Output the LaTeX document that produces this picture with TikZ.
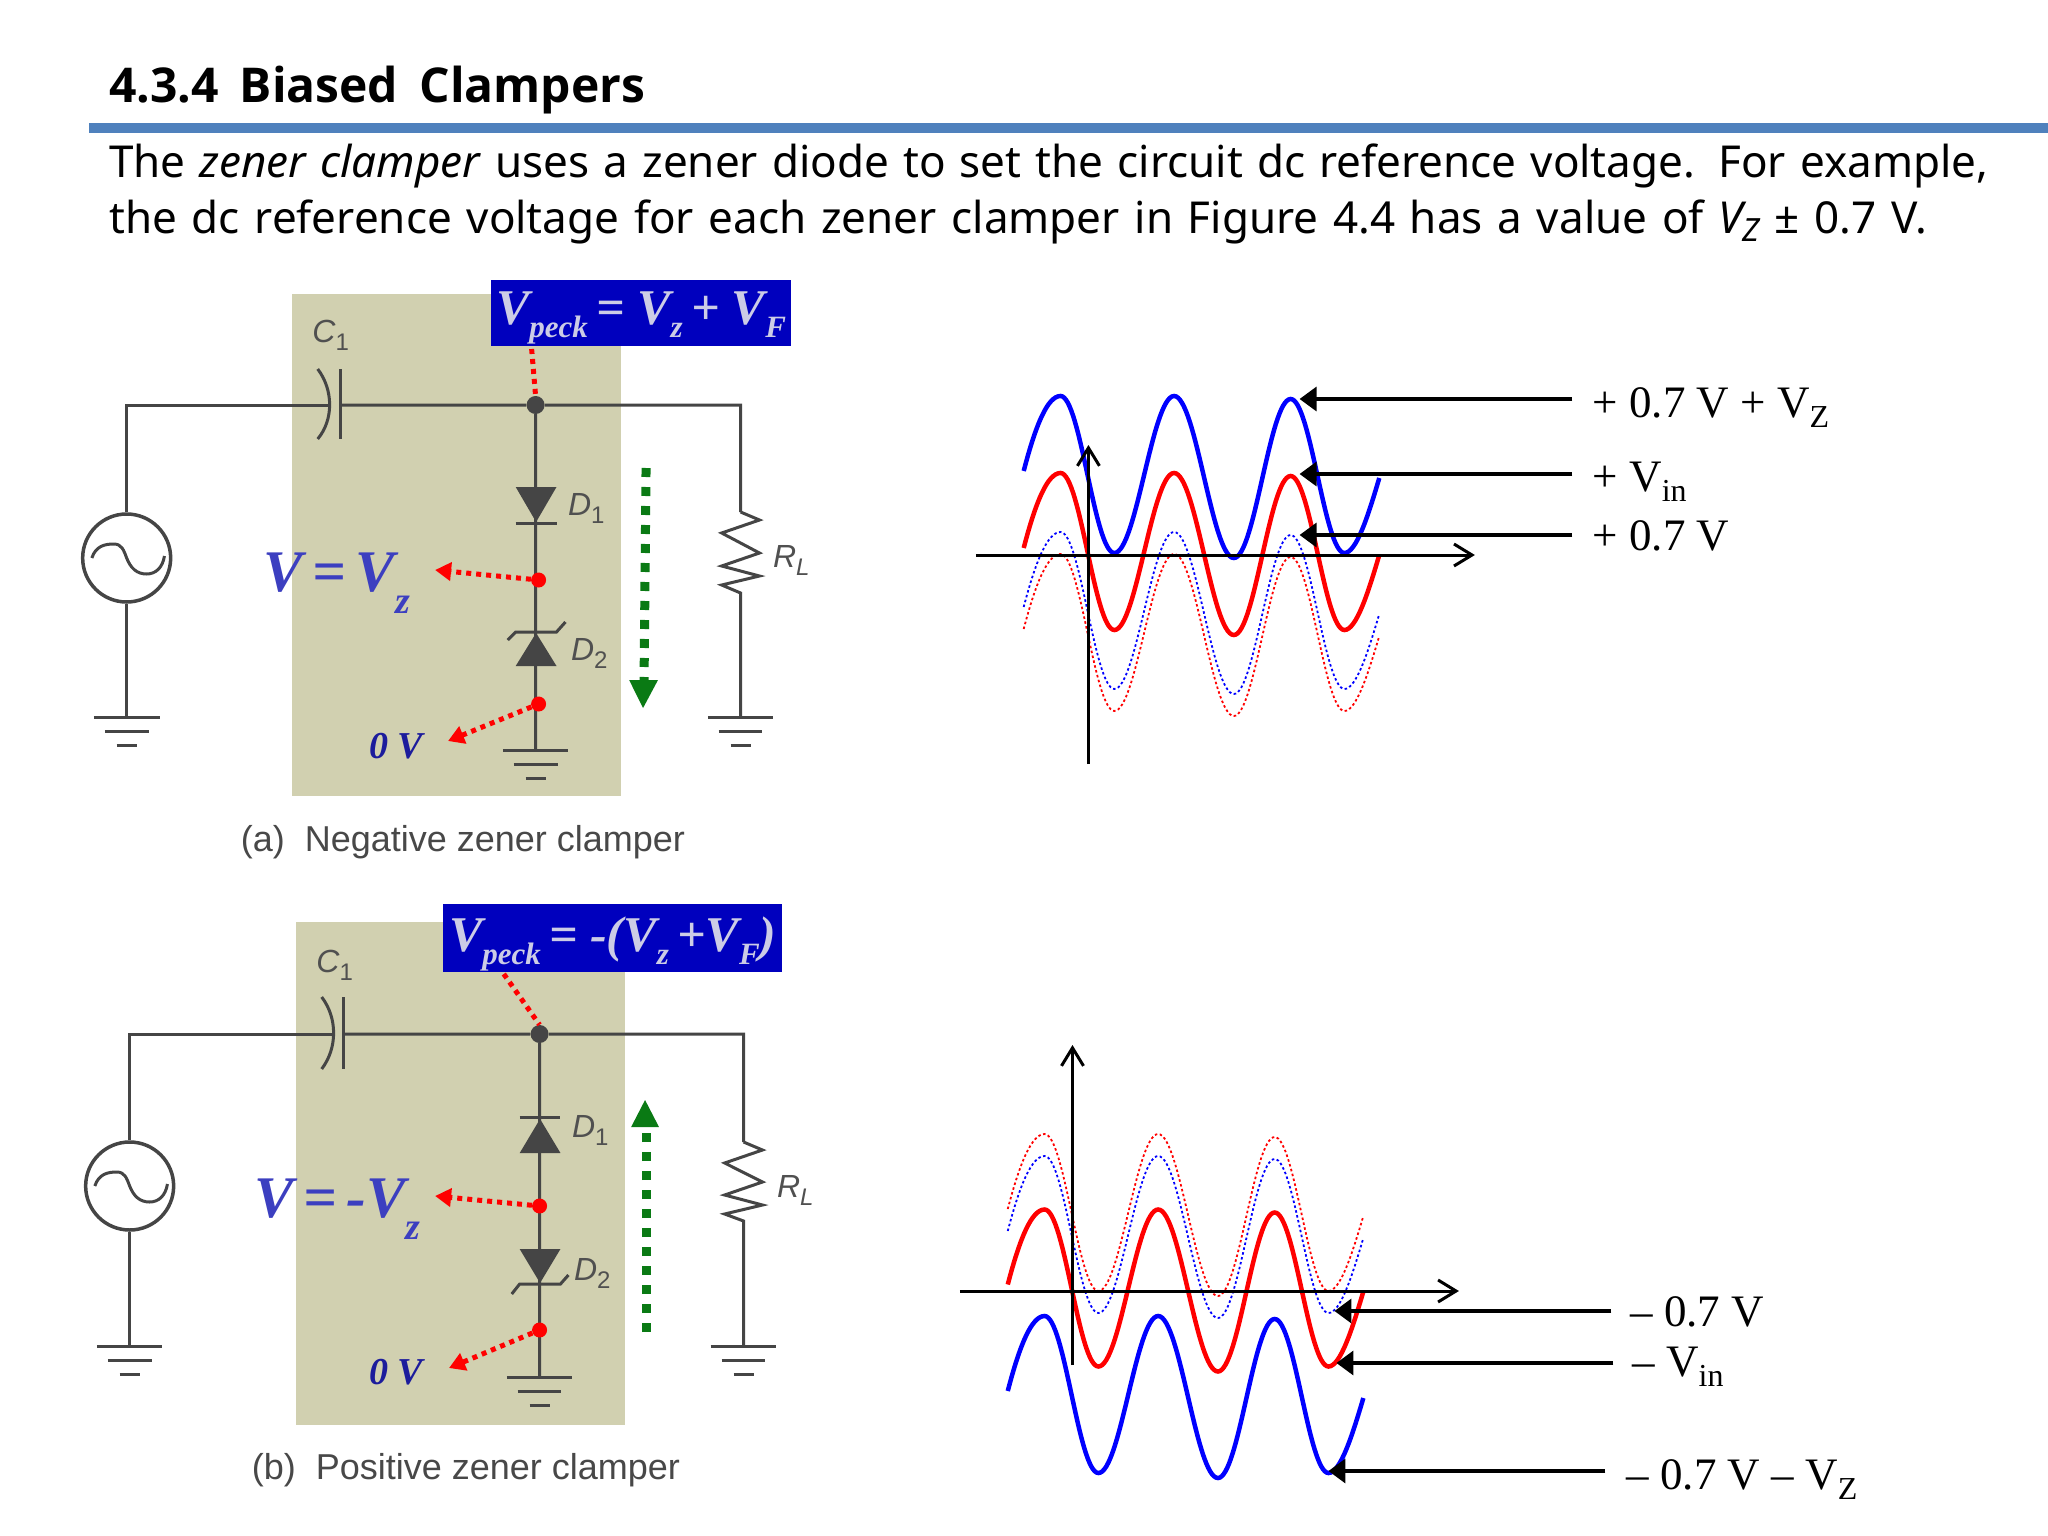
\documentclass[tikz,border=0pt]{standalone}
\usepackage{fontspec}
\setmainfont{Liberation Serif}
\setsansfont{Liberation Sans}
\newfontfamily\headfont{Noto Sans}
\newfontfamily\titlefont{Open Sans}
\usetikzlibrary{arrows.meta}
\definecolor{ruleblue}{HTML}{4F81BD}
\definecolor{tanc}{HTML}{D1D0B0}
\definecolor{wirec}{HTML}{454545}
\definecolor{boxblue}{HTML}{0000BE}
\definecolor{boxtxt}{HTML}{CCCCE6}
\definecolor{vblue}{HTML}{3C3FC0}
\definecolor{zblue}{HTML}{1C1C9C}
\definecolor{gdot}{HTML}{0A7A14}
\definecolor{capc}{HTML}{484848}
\definecolor{slc}{HTML}{505050}
\newcommand\fs[1]{\fontsize{#1}{#1}\selectfont}
\newcommand\subt[2]{\raisebox{#1}{#2}}
\newcommand\slbl[2]{{\sffamily\color{slc}\itshape\fs{32}#1\subt{-8pt}{\fs{24}#2}}}
\newcommand\wlbl[2]{{\fs{45}#1\subt{-10pt}{\fs{32}#2}}}
\newcommand\bb[1]{{\bfseries\itshape\fs{50}#1}}
\newcommand\bs[1]{\subt{-13pt}{\bfseries\itshape\fs{31}#1}}
\newcommand\gnd[2]{\draw[wire] (#1-33,#2)--(#1+33,#2) (#1-22,#2+14)--(#1+22,#2+14) (#1-10,#2+28)--(#1+10,#2+28);}
\newcommand\sinemark[2]{\draw[wire,shift={(#1-127,#2-558)}] (92,558) .. controls (96,546) and (105,544) .. (114,544) .. controls (122,544) and (124,550) .. (127,558) .. controls (131,568) and (137,574) .. (147,574) .. controls (156,574) and (163,568) .. (165,556);}
\newcommand\wavepath{(1024,471) .. controls (1036,425) and (1048,396) .. (1061,396)
 .. controls (1081,396) and (1095,553) .. (1115,553)
 .. controls (1137,553) and (1153,396) .. (1175,396)
 .. controls (1197,396) and (1213,558) .. (1235,558)
 .. controls (1256,558) and (1271,399) .. (1292,399)
 .. controls (1312,399) and (1326,553) .. (1346,553)
 .. controls (1358,553) and (1370,515) .. (1381,478)}
\tikzset{
 x=1pt,y=-1pt,
 wire/.style={draw=wirec,line width=3pt},
 tanbox/.style={fill=tanc,draw=none},
 bluebox/.style={fill=boxblue,text=boxtxt,inner sep=0pt,anchor=center},
 diode/.style={fill=wirec,draw=none},
 blk/.style={circle,fill=wirec,minimum size=18pt,inner sep=0pt},
 rdot/.style={circle,fill=red,minimum size=15pt,inner sep=0pt},
 reddot/.style={draw=red,line width=5pt,dash pattern=on 5pt off 5pt},
 redarr/.style={reddot,-{Triangle[length=16pt,width=18pt,fill=red]}},
 greendot/.style={draw=gdot,line width=9pt,dash pattern=on 9pt off 10pt},
 greenhead/.style={fill=gdot,draw=none},
 axis/.style={draw=black,line width=3pt,-{Straight Barb[length=18pt,width=22pt,line width=3pt]}},
 lbarrow/.style={draw=black,line width=3.5pt,-{Triangle[length=17pt,width=24pt]}},
 bw/.style={draw=blue,line width=4.5pt},
 rw/.style={draw=red,line width=4.5pt},
 bd/.style={draw=blue,line width=1.8pt,dash pattern=on 2.5pt off 2.5pt},
 rd/.style={draw=red,line width=1.8pt,dash pattern=on 2.5pt off 2.5pt},
 captxt/.style={text=capc,font=\sffamily\fs{36}},
 wlabel/.style={anchor=base west,inner sep=0pt,text=black},
 vtext/.style={text=vblue,inner sep=0pt,anchor=base west,font=\bfseries\itshape\fs{59}},
 zerov/.style={text=zblue,inner sep=0pt,font=\bfseries\itshape\fs{38}},
 bodyt/.style={anchor=base west,inner sep=0pt,text=black,font=\headfont\fs{44}},
 circstyle/.style={xshift=0.3pt,xscale=0.995},
 wavestyle/.style={xshift=3.8pt,xscale=0.996},
}
\begin{document}
\begin{tikzpicture}
\useasboundingbox (0,0) rectangle (2048,1536);
% header
\node[anchor=base west,inner sep=0pt,font=\titlefont\bfseries\fs{48}] (title) at (109,103) {\makebox[536pt][s]{4.3.4 Biased Clampers}};
\fill[ruleblue] (89,123) rectangle (2048,133);
\node[bodyt] (l1) at (109,178) {\makebox[1879pt][s]{The \textit{zener clamper} uses a zener diode to set the circuit dc reference voltage. For example,}};
\node[bodyt] (l2) at (109,233) {\makebox[1818pt][s]{the dc reference voltage for each zener clamper in Figure 4.4 has a value of \textit{V\subt{-8pt}{\fs{32}Z}} ± 0.7 V.}};

%% circuit (a)
\begin{scope}[circstyle]
\fill[tanbox] (293,294) rectangle (624,796);
\node[bluebox,minimum width=300pt,text height=44pt,text depth=22pt] (pa) at (644,313) {\bb{V}\bs{peck}\bb{\,= V}\bs{z}\bb{\,+ V}\bs{F}};
\coordinate (tl) at (127,405); \coordinate (tr) at (744,405);
\node[blk] (na) at (538,405) {};
\coordinate (gl) at (127,717); \coordinate (gr) at (744,717); \coordinate (gc) at (538,750);
\node[draw=wirec,line width=3.5pt,circle,minimum size=88pt,inner sep=0pt] (sa) at (127,558) {};
\draw[wire] (sa.north) -- (tl) -- (329,405);
\draw[wire] (342,405) -- (na) -- (tr) -- (744,512);
\draw[wire] (sa.south) -- (gl);
\sinemark{127}{558}
\draw[wire] (319,369) .. controls (335,390) and (335,420) .. (319,439);
\draw[wire] (342,369) -- (342,439);
\draw[wire] (744,512) -- (763,520) -- (725,533) -- (763,553) -- (725,566) -- (763,576) -- (725,585) -- (744,593) -- (gr);
\gnd{127}{717}\gnd{744}{717}\gnd{538}{750}
\draw[wire] (na) -- (gc);
\fill[diode] (518,487) -- (559,487) -- (538.5,522) -- cycle;
\draw[wire] (518,523) -- (559,523);
\fill[diode] (518,666) -- (559,666) -- (538.5,633) -- cycle;
\draw[wire] (510,640) -- (518,632) -- (559,632) -- (568,622);
\node[rdot] (ra1) at (541,580) {};
\node[rdot] (ra2) at (541,704) {};
\coordinate (ra1t) at (437,570); \coordinate (ra2t) at (450,741);
\draw[reddot] (534,349) -- (na.north);
\draw[redarr] (ra1) -- (ra1t);
\draw[redarr] (ra2) -- (ra2t);
\draw[greendot] (649,468) -- (647,680);
\fill[greenhead] (632,680) -- (661,680) -- (646,708) -- cycle;
\node (c1a) at (332,335) {\slbl{C}{\upshape 1}};
\node (d1a) at (589,508) {\slbl{D}{\upshape 1}};
\node (d2a) at (592,653) {\slbl{D}{\upshape 2}};
\node (rla) at (795,560) {\slbl{R}{L}};
\node[vtext] (va) at (264,591) {V\,=\,V\subt{-22pt}{\fs{38}z}};
\node[zerov] (za) at (398,746) {0 V};
\node[captxt] (capa) at (465,842) {(a)\ \ Negative zener clamper};
\end{scope}

%% wave (a)
\begin{scope}[wavestyle]
\draw[bd,yshift=-136pt] \wavepath;
\draw[rd,yshift=-158pt] \wavepath;
\draw[rw,yshift=-77pt] \wavepath;
\draw[bw] \wavepath;
\coordinate (xa0) at (976,555); \coordinate (xa1) at (1477,555);
\coordinate (ya0) at (1089,764); \coordinate (ya1) at (1089,445);
\draw[axis] (xa0) -- (xa1);
\draw[axis] (ya0) -- (ya1);
\coordinate (a1s) at (1575,399); \coordinate (a1e) at (1301,399);
\coordinate (a2s) at (1575,474); \coordinate (a2e) at (1301,474);
\coordinate (a3s) at (1575,535); \coordinate (a3e) at (1301,535);
\draw[lbarrow] (a1s) -- (a1e);
\draw[lbarrow] (a2s) -- (a2e);
\draw[lbarrow] (a3s) -- (a3e);
\node[wlabel] (w1) at (1595,417) {\wlbl{+ 0.7 V + V}{Z}};
\node[wlabel] (w2) at (1595,491) {\wlbl{+ V}{in}};
\node[wlabel] (w3) at (1595,550) {\wlbl{+ 0.7 V}{}};
\end{scope}

%% circuit (b)
\begin{scope}[circstyle]
\fill[tanbox] (297,922) rectangle (628,1425);
\node[bluebox,minimum width=339pt,text height=47.5pt,text depth=20.5pt] (pb) at (615.5,938) {\bb{V}\bs{peck}\bb{\,= -(V}\bs{z}\bb{\,+V}\bs{F}\bb{)}};
\coordinate (tl2) at (130,1034); \coordinate (tr2) at (747,1034);
\node[blk] (nb) at (542,1034) {};
\coordinate (gl2) at (130,1346); \coordinate (gr2) at (747,1346); \coordinate (gc2) at (542,1377);
\node[draw=wirec,line width=3.5pt,circle,minimum size=88pt,inner sep=0pt] (sb) at (130,1186) {};
\draw[wire] (sb.north) -- (tl2) -- (333,1034);
\draw[wire] (345,1034) -- (nb) -- (tr2) -- (747,1142);
\draw[wire] (sb.south) -- (gl2);
\sinemark{130}{1186}
\draw[wire] (323,997) .. controls (339,1018) and (339,1048) .. (323,1069);
\draw[wire] (345,997) -- (345,1069);
\draw[wire] (747,1142) -- (766,1150) -- (728,1163) -- (766,1182) -- (728,1195) -- (766,1205) -- (728,1214) -- (747,1221) -- (gr2);
\gnd{130}{1346}\gnd{747}{1346}\gnd{542}{1377}
\draw[wire] (nb) -- (gc2);
\fill[diode] (522,1153) -- (563,1153) -- (542.5,1119) -- cycle;
\draw[wire] (522,1117) -- (563,1117);
\fill[diode] (522,1249) -- (563,1249) -- (542.5,1283) -- cycle;
\draw[wire] (514,1294) -- (522,1284) -- (563,1284) -- (571,1275);
\node[rdot] (rb1) at (542,1206) {};
\node[rdot] (rb2) at (542,1330) {};
\coordinate (rb1t) at (437,1196); \coordinate (rb2t) at (451,1368);
\draw[reddot] (506,974) -- (nb.north);
\draw[redarr] (rb1) -- (rb1t);
\draw[redarr] (rb2) -- (rb2t);
\draw[greendot] (649,1332) -- (649,1127);
\fill[greenhead] (634,1127) -- (662,1127) -- (648,1100) -- cycle;
\node (c1b) at (336,965) {\slbl{C}{\upshape 1}};
\node (d1b) at (593,1130) {\slbl{D}{\upshape 1}};
\node (d2b) at (595,1273) {\slbl{D}{\upshape 2}};
\node (rlb) at (799,1190) {\slbl{R}{L}};
\node[vtext] (vb) at (255,1217) {V\,=\,-V\subt{-22pt}{\fs{38}z}};
\node[zerov] (zb) at (398,1372) {0 V};
\node[captxt] (capb) at (468,1470) {(b)\ \ Positive zener clamper};
\end{scope}

%% wave (b)
\begin{scope}[wavestyle]
\begin{scope}[xshift=-16pt]
\draw[rd,yshift=-738pt] \wavepath;
\draw[bd,yshift=-760pt] \wavepath;
\draw[rw,yshift=-813.5pt] \wavepath;
\draw[bw,yshift=-920pt] \wavepath;
\end{scope}
\coordinate (xb0) at (960,1291); \coordinate (xb1) at (1461,1291);
\coordinate (yb0) at (1073,1365); \coordinate (yb1) at (1073,1045);
\draw[axis] (xb0) -- (xb1);
\draw[axis] (yb0) -- (yb1);
\coordinate (b1s) at (1614,1311); \coordinate (b1e) at (1336,1311);
\coordinate (b2s) at (1616,1363); \coordinate (b2e) at (1338,1363);
\coordinate (b3s) at (1608,1471); \coordinate (b3e) at (1330,1471);
\draw[lbarrow] (b1s) -- (b1e);
\draw[lbarrow] (b2s) -- (b2e);
\draw[lbarrow] (b3s) -- (b3e);
\node[wlabel] (w4) at (1633,1326) {\wlbl{– 0.7 V}{}};
\node[wlabel] (w5) at (1635,1376) {\wlbl{– V}{in}};
\node[wlabel] (w6) at (1629,1489) {\wlbl{– 0.7 V – V}{Z}};
\end{scope}
\end{tikzpicture}
\end{document}
